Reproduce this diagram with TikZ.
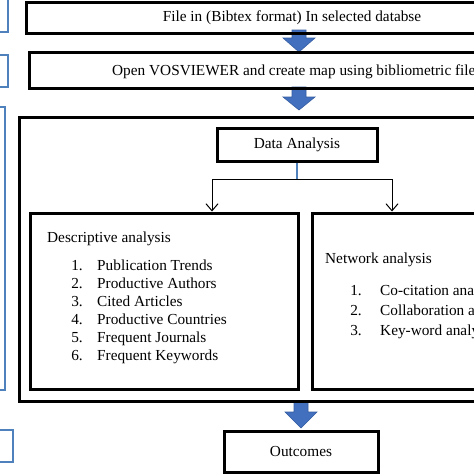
\documentclass[tikz,border=0pt]{standalone}
\usepackage{fontspec}
\setmainfont{Liberation Serif}
\usetikzlibrary{arrows.meta}
\definecolor{bbox}{RGB}{79,129,189}
\definecolor{barrow}{RGB}{66,112,190}
\definecolor{barrowedge}{RGB}{52,92,160}
\newcommand\myblockarrow[4]{%
  \draw[blk] ({#1-7},#2) -- ({#1+7},#2) -- ({#1+7},#3) -- ({#1+16},#3) -- (#1,#4) -- ({#1-16},#3) -- ({#1-7},#3) -- cycle;}
\begin{document}
\begin{tikzpicture}[x=1pt,y=-1pt,
  box/.style={draw=black,line width=3pt,rectangle,inner sep=0pt,font=\fontsize{15.3}{18}\selectfont},
  txt/.style={inner sep=0pt,font=\fontsize{15.3}{18}\selectfont},
  conn/.style={line width=1pt,black},
  tipv/.style={-{Straight Barb[length=7pt,width=12pt,line width=1pt]}},
  blk/.style={fill=barrow,draw=barrowedge,line width=0.6pt},
  side/.style={draw=bbox,line width=2pt}]
\useasboundingbox (0,0) rectangle (474,474);
\clip (0,0) rectangle (474,474);

% left blue boxes (partly outside)
\draw[side] (-10,-10) rectangle (8,32);
\draw[side] (-10,55) rectangle (8,87);
\draw[side] (-10,107) rectangle (5,390);
\draw[side] (-10,430) rectangle (13,462);

% block arrows
\myblockarrow{299}{30}{38}{52}
\myblockarrow{299}{87}{97}{110}
\myblockarrow{301}{401}{412}{428}

% boxes
\node[box,minimum width=532pt,minimum height=31pt] (f1) at (292,17.5) {File in (Bibtex format) In selected databse};
\node[box,minimum width=531pt,minimum height=36pt] (f2) at (294.5,70) {};
\node[txt,anchor=base west] (f2t) at (112,75) {Open VOSVIEWER and create map using bibliometric file};

\node[box,minimum width=541pt,minimum height=284pt] (outer) at (289.5,259) {};
\node[box,minimum width=160pt,minimum height=33pt] (da) at (297,144.5) {Data Analysis};
\node[box,minimum width=268pt,minimum height=176pt] (desc) at (164,301) {};
\node[box,minimum width=248pt,minimum height=176pt] (net) at (436,301) {};
\node[box,minimum width=154pt,minimum height=41pt] (out) at (301,451.5) {Outcomes};

% connectors
\coordinate (split) at (297,179);
\coordinate (jl) at (212,179);
\coordinate (jr) at (392,179);
\draw[line width=1.2pt,bbox] (da.south) -- (split);
\draw[conn] (jl) -- (jr);
\draw[conn,tipv] (jl) -- (jl |- desc.north);
\draw[conn,tipv] (jr) -- (jr |- net.north);

% descriptive list
\node[txt,anchor=base west] (dh) at (47,242) {Descriptive analysis};
\node[txt,anchor=base east] (dn1) at (83,270.5) {1.};
\node[txt,anchor=base west] (di1) at (97,270.5) {Publication Trends};
\node[txt,anchor=base east] (dn2) at (83,288.4) {2.};
\node[txt,anchor=base west] (di2) at (97,288.4) {Productive Authors};
\node[txt,anchor=base east] (dn3) at (83,306.3) {3.};
\node[txt,anchor=base west] (di3) at (97,306.3) {Cited Articles};
\node[txt,anchor=base east] (dn4) at (83,324.2) {4.};
\node[txt,anchor=base west] (di4) at (97,324.2) {Productive Countries};
\node[txt,anchor=base east] (dn5) at (83,342.1) {5.};
\node[txt,anchor=base west] (di5) at (97,342.1) {Frequent Journals};
\node[txt,anchor=base east] (dn6) at (83,360) {6.};
\node[txt,anchor=base west] (di6) at (97,360) {Frequent Keywords};

% network list
\node[txt,anchor=base west] (nh) at (325,263) {Network analysis};
\node[txt,anchor=base east] (nn1) at (362,295) {1.};
\node[txt,anchor=base west] (ni1) at (380,295) {Co-citation analysis};
\node[txt,anchor=base east] (nn2) at (362,315) {2.};
\node[txt,anchor=base west] (ni2) at (380,315) {Collaboration analysis};
\node[txt,anchor=base east] (nn3) at (362,335) {3.};
\node[txt,anchor=base west] (ni3) at (380,335) {Key-word analysis};
\end{tikzpicture}
\end{document}
